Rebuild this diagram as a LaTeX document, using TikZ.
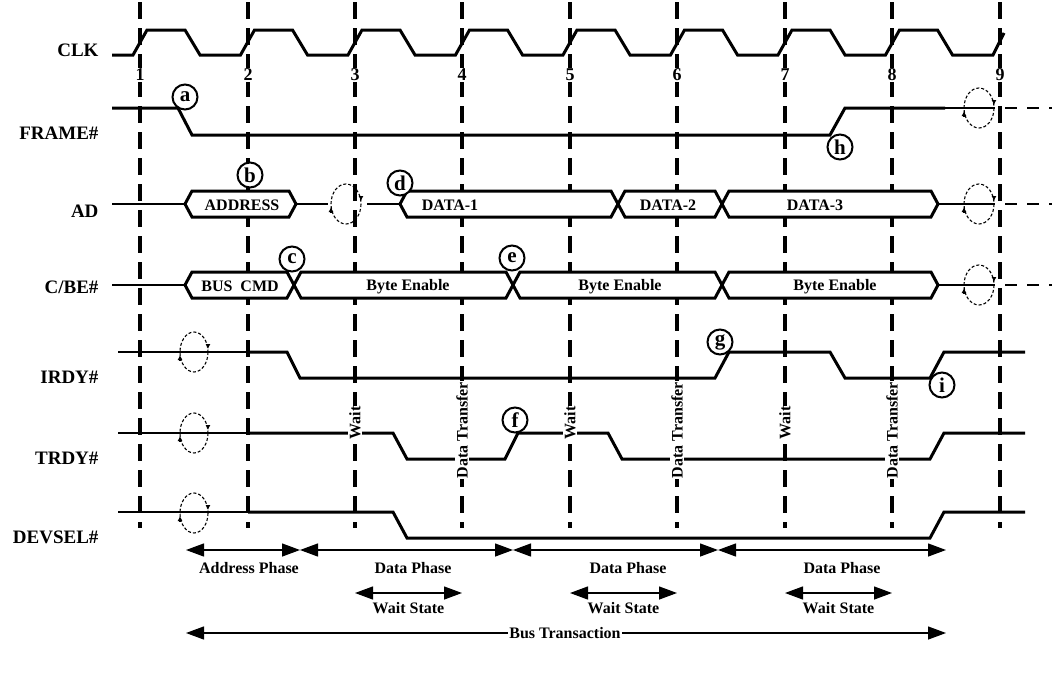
\documentclass[tikz,border=0pt]{standalone}
\usepackage{fontspec}
\setmainfont{Liberation Serif}
\usetikzlibrary{arrows.meta}
\begin{document}
\begin{tikzpicture}[x=1pt,y=-1pt,
  thk/.style={line width=3pt,line join=miter},
  hexb/.style={line width=3pt,line join=miter,fill=white},
  thn/.style={line width=1.3pt},
  grid/.style={line width=3.6pt,dash pattern=on 17pt off 9pt},
  sig/.style={font=\fontsize{19}{21}\bfseries,anchor=east},
  bus/.style={font=\fontsize{16}{18}\bfseries},
  circ/.style={circle,draw,line width=2pt,inner sep=0pt,minimum size=25pt,fill=white,font=\fontsize{21}{22}\bfseries},
  num/.style={font=\fontsize{18}{20}\bfseries,fill=white,inner sep=1pt},
  vlab/.style={rotate=90,font=\fontsize{16}{18}\bfseries,fill=white,inner sep=1pt},
  loopd/.style={line width=1.1pt,dash pattern=on 3pt off 2pt},
  tip/.style={-{Latex[length=5pt,width=5pt]},line width=1.1pt},
  dim/.style={line width=1.3pt,{Triangle[length=18pt,width=13pt]}-{Triangle[length=18pt,width=13pt]}},
  dimlab/.style={font=\fontsize{16}{18}\bfseries}]
\fill[white] (0,0) rectangle (1052,672);
\useasboundingbox (0,0) rectangle (1052,672);
% grid lines
\foreach \i/\x in {1/140,2/248,3/355,4/462,5/570,6/677,7/785,8/892,9/1000}{
  \draw[grid] (\x,2) -- (\x,528);
}
% CLK
\draw[thk] (112,55)
  \foreach \c in {140,247.5,355,462.5,570,677.5,785,892.5}{
   -- (\c-7,55) -- (\c+7,30) -- (\c+45,30) -- (\c+60,55)} -- (993,55) -- (1004,33);
\foreach \i/\x in {1/140,2/248,3/355,4/462,5/570,6/677,7/785,8/892,9/1000}{
  \node[num] (n\i) at (\x,75) {\i};
}
% signal names
\node[sig] (lclk) at (102,50) {CLK};
\node[sig] (lframe) at (102,133) {FRAME\#};
\node[sig] (lad) at (102,211) {AD};
\node[sig] (lcbe) at (102,287) {C/BE\#};
\node[sig] (lirdy) at (102,377) {IRDY\#};
\node[sig] (ltrdy) at (102,458) {TRDY\#};
\node[sig] (ldev) at (102,537) {DEVSEL\#};
% FRAME#
\draw[thk] (112,108) -- (178,108) -- (192,135) -- (830,135) -- (845,108) -- (945,108);
\draw[thn] (945,108) -- (995,108);
\draw[thn,dash pattern=on 12pt off 10pt] (1005,108) -- (1052,108);
% AD
\draw[thn] (112,204) -- (185,204);
\draw[hexb] (185,204) -- (192,191) -- (289,191) -- (296,204) -- (289,217) -- (192,217) -- cycle;
\draw[thn] (296,204) -- (328,204);
\draw[thn] (367,204) -- (400,204);
\draw[hexb] (400,204) -- (407,191) -- (611,191) -- (618,204) -- (611,217) -- (407,217) -- cycle;
\draw[hexb] (618,204) -- (625,191) -- (715,191) -- (722,204) -- (715,217) -- (625,217) -- cycle;
\draw[hexb] (722,204) -- (729,191) -- (931,191) -- (938,204) -- (931,217) -- (729,217) -- cycle;
\draw[thn] (938,204) -- (995,204);
\draw[thn,dash pattern=on 12pt off 10pt] (1005,204) -- (1052,204);
\node[bus] (tadr) at (242,205) {ADDRESS};
\node[bus] (td1) at (450,205) {DATA-1};
\node[bus] (td2) at (668,205) {DATA-2};
\node[bus] (td3) at (815,205) {DATA-3};
% C/BE#
\draw[thn] (112,285) -- (185,285);
\draw[hexb] (185,285) -- (192,272) -- (287,272) -- (294,285) -- (287,298) -- (192,298) -- cycle;
\draw[hexb] (294,285) -- (301,272) -- (506,272) -- (513,285) -- (506,298) -- (301,298) -- cycle;
\draw[hexb] (513,285) -- (520,272) -- (715,272) -- (722,285) -- (715,298) -- (520,298) -- cycle;
\draw[hexb] (722,285) -- (729,272) -- (931,272) -- (938,285) -- (931,298) -- (729,298) -- cycle;
\draw[thn] (938,285) -- (995,285);
\draw[thn,dash pattern=on 12pt off 10pt] (1005,285) -- (1052,285);
\node[bus] (tcmd) at (240,286) {BUS\ \ CMD};
\node[bus] (tbe1) at (408,287) {Byte Enable};
\node[bus] (tbe2) at (620,287) {Byte Enable};
\node[bus] (tbe3) at (835,287) {Byte Enable};
% IRDY#
\draw[thn] (118,352) -- (248,352);
\draw[thk] (248,352) -- (287,352) -- (300,378) -- (715,378) -- (729,352) -- (830,352) -- (845,378) -- (930,378) -- (944,352) -- (1025,352);
% TRDY#
\draw[thn] (118,433) -- (248,433);
\draw[thk] (248,433) -- (393,433) -- (407,459) -- (505,459) -- (518,433) -- (608,433) -- (622,459) -- (930,459) -- (944,433) -- (1025,433);
% DEVSEL#
\draw[thn] (118,512) -- (248,512);
\draw[thk] (248,512) -- (393,512) -- (407,538) -- (930,538) -- (944,512) -- (1025,512);
% turnaround loops
\foreach \cx/\cy in {194/352,194/433,194/513}{
  \draw[loopd] (\cx,\cy) ellipse (14 and 20);
  \draw[tip] (\cx+14,\cy-8) -- (\cx+14,\cy-3);
  \draw[tip] (\cx-14,\cy+8) -- (\cx-14,\cy+3);
}
\foreach \cx/\cy in {346/204,979/108,979/204,979/285}{
  \draw[loopd] (\cx,\cy) ellipse (15 and 20);
  \draw[tip] (\cx+15,\cy-8) -- (\cx+15,\cy-3);
  \draw[tip] (\cx-15,\cy+8) -- (\cx-15,\cy+3);
}
% vertical labels
\foreach \n/\x in {a/355,b/570,c/785}{
  \node[vlab] (w\n) at (\x,423) {Wait};
}
\foreach \n/\x in {a/462,b/677,c/892}{
  \node[vlab] (dt\n) at (\x,430) {Data Transfer};
}
% circled letters
\node[circ] (ca) at (185,97) {a};
\node[circ] (cb) at (250,175) {b};
\node[circ] (cc) at (292,259) {c};
\node[circ] (cd) at (400,183) {d};
\node[circ] (ce) at (512,258) {e};
\node[circ] (cf) at (515,420) {f};
\node[circ] (cg) at (720,342) {g};
\node[circ] (ch) at (840,147) {h};
\node[circ] (ci) at (942,385) {i};
% phase arrows
\coordinate (p0) at (186,550);
\coordinate (p1) at (300,550);
\coordinate (p2) at (513,550);
\coordinate (p3) at (718,550);
\coordinate (p4) at (946,550);
\draw[dim] (p0) -- (p1);
\draw[dim] (p1) -- (p2);
\draw[dim] (p2) -- (p3);
\draw[dim] (p3) -- (p4);
\node[dimlab] (lap) at (249,568) {Address Phase};
\node[dimlab] (ldp1) at (413,568) {Data Phase};
\node[dimlab] (ldp2) at (628,568) {Data Phase};
\node[dimlab] (ldp3) at (842,568) {Data Phase};
\foreach \n/\a/\b in {a/355/462,b/570/677,c/785/892}{
  \coordinate (ws\n1) at (\a,593);
  \coordinate (ws\n2) at (\b,593);
  \draw[dim] (ws\n1) -- (ws\n2);
  \node[dimlab] (lws\n) at ({(\a+\b)/2},608) {Wait State};
}
\coordinate (bt0) at (186,633);
\coordinate (bt1) at (946,633);
\node[dimlab,fill=white,inner sep=1pt] (lbt) at (565,633) {Bus Transaction};
\draw[line width=1.3pt,{Triangle[length=18pt,width=13pt]}-] (bt0) -- (lbt.west);
\draw[line width=1.3pt,-{Triangle[length=18pt,width=13pt]}] (lbt.east) -- (bt1);
\end{tikzpicture}
\end{document}
